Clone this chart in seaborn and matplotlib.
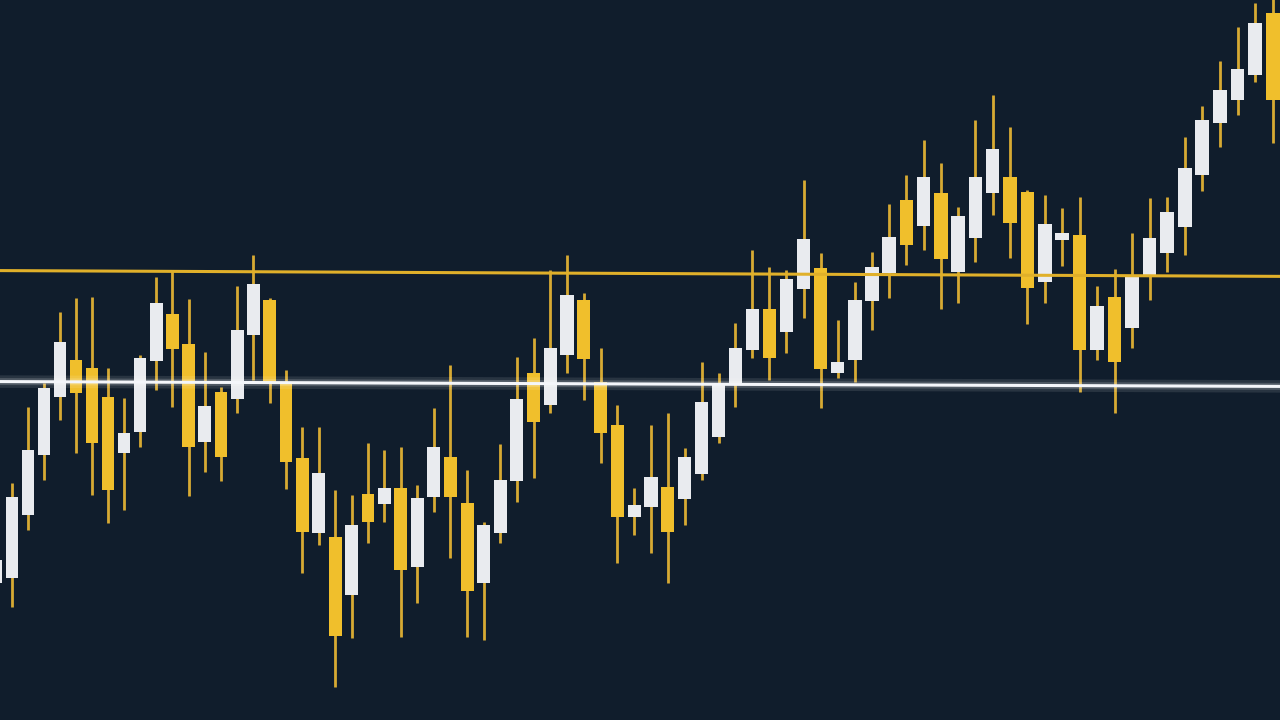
import numpy as np
import matplotlib
matplotlib.use("Agg")
import matplotlib.pyplot as plt
import seaborn as sns

# ---------------------------------------------------------------
# candle data (price units)
opens = [137, 142, 205, 265, 323, 360, 352, 323, 267, 288,
         359, 406, 376, 278, 328, 321, 385, 420, 337, 262,
         187, 183, 125, 226, 216, 232, 153, 223, 263, 217,
         137, 187, 239, 347, 315, 365, 420, 338, 295, 203,
         213, 233, 221, 246, 283, 337, 370, 411, 388, 431,
         452, 347, 360, 419, 447, 520, 494, 527, 448, 482,
         527, 543, 528, 438, 480, 485, 370, 423, 392, 445,
         467, 493, 545, 597, 620, 645, 707]
closes = [160, 223, 270, 332, 378, 327, 277, 230, 287, 362,
          417, 371, 273, 314, 263, 390, 436, 338, 258, 188,
          247, 84, 195, 198, 232, 150, 222, 273, 223, 129,
          195, 240, 321, 298, 372, 425, 361, 287, 203, 215,
          243, 188, 263, 318, 337, 372, 411, 362, 441, 481,
          351, 358, 420, 453, 483, 475, 543, 461, 504, 543,
          571, 497, 432, 496, 487, 370, 414, 358, 445, 482,
          508, 552, 600, 630, 651, 697, 620]
highs = [165, 237, 313, 337, 408, 422, 423, 352, 322, 365,
         443, 450, 421, 368, 333, 434, 465, 422, 350, 293,
         293, 230, 225, 277, 270, 273, 235, 312, 355, 250,
         198, 276, 363, 382, 450, 465, 427, 372, 315, 232,
         295, 307, 272, 358, 347, 397, 470, 453, 450, 540,
         467, 400, 438, 468, 516, 545, 580, 557, 513, 600,
         625, 593, 530, 525, 512, 523, 434, 451, 487, 522,
         523, 583, 614, 659, 693, 717, 725]
lows = [130, 113, 190, 240, 300, 267, 225, 197, 210, 273,
        330, 313, 224, 248, 239, 307, 340, 317, 231, 147,
        175, 33, 82, 177, 198, 83, 117, 208, 162, 83,
        80, 177, 218, 242, 307, 347, 320, 257, 157, 185,
        167, 137, 195, 240, 277, 313, 362, 340, 367, 402,
        312, 342, 338, 390, 422, 455, 470, 411, 417, 458,
        505, 462, 396, 417, 454, 328, 360, 307, 372, 420,
        448, 465, 529, 573, 605, 638, 577]

# support / resistance levels (start and end value)
level_x = [-1, 78]
resistance = [449.5, 443.5]
support = [338.5, 333.5]

# ---------------------------------------------------------------
BG = "#101d2c"
GOLD = "#f0bf2c"
WICK = "#d7aa33"
WHITE = "#e9ebef"

sns.set_theme(style="dark", rc={"axes.facecolor": BG, "figure.facecolor": BG})

idx = np.arange(len(opens))
o = np.array(opens)
c = np.array(closes)
up = c >= o

fig = plt.figure(figsize=(12.8, 7.2), dpi=100)
ax = fig.add_axes([0, 0, 1, 1])
ax.set_facecolor(BG)

# the photo has a bit of perspective: spacing widens to the right
k = 0.00075
fwd = lambda x: x + k * x**2
inv = lambda y: (-1 + np.sqrt(np.clip(1 + 4 * k * y, 0, None))) / (2 * k)
ax.set_xscale("function", functions=(fwd, inv))

# level lines
sns.lineplot(x=level_x, y=resistance, ax=ax, color="#e0b02a", lw=2.2, zorder=4)
sns.lineplot(x=level_x, y=support, ax=ax, color="white", lw=9, alpha=0.10, zorder=4)
sns.lineplot(x=level_x, y=support, ax=ax, color="white", lw=5, alpha=0.18, zorder=4)
sns.lineplot(x=level_x, y=support, ax=ax, color="#f4f6fa", lw=2.2, zorder=5)

# wicks
ax.vlines(idx, lows, highs, color=WICK, lw=2.0, zorder=2)

# bodies
body_lo = np.minimum(o, c)
body_h = np.maximum(np.abs(c - o), 4)
ax.bar(idx[up], body_h[up], bottom=body_lo[up], width=0.78,
       color=WHITE, edgecolor="none", zorder=3)
ax.bar(idx[~up], body_h[~up], bottom=body_lo[~up], width=0.78,
       color=GOLD, edgecolor="none", zorder=3)

ax.set_xlim(0.246, 76.4)
ax.set_ylim(0, 720)
ax.axis("off")

fig.savefig("out.png", dpi=100, facecolor=BG)
